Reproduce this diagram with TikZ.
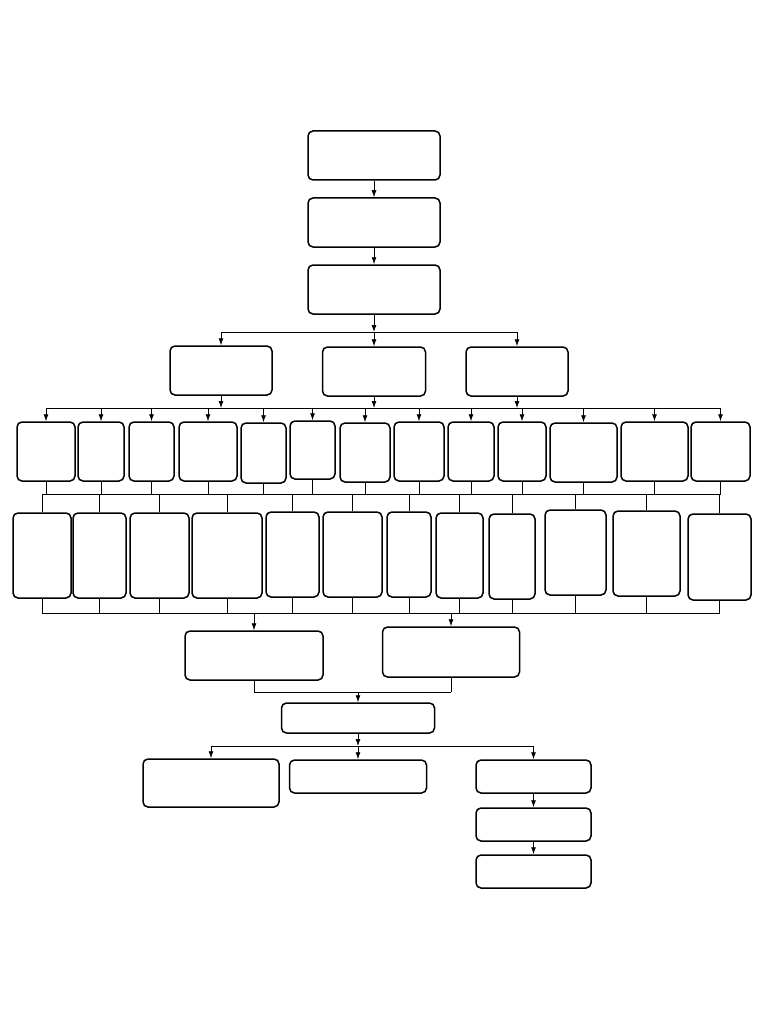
\documentclass[tikz,border=0pt]{standalone}
\usepackage{tikz}
\usetikzlibrary{positioning,arrows.meta}

\begin{document}
\begin{tikzpicture}[x=1pt,y=-1pt,
	box/.style={draw, rounded corners=5pt, line width=1.5pt, inner sep=0pt, fill=white},
	conn/.style={line width=0.8pt},
	>={Latex[length=7pt,width=5pt]}]
			\useasboundingbox (0,0) rectangle (768,1024);
			
			% top column
			\node[box, minimum width=132pt, minimum height=49pt] (t1) at (374, 155.5) {};
			\node[box, minimum width=132pt, minimum height=49pt] (t2) at (374, 222.5) {};
			\node[box, minimum width=132pt, minimum height=49pt] (t3) at (374, 289.5) {};
			
			% three branches
			\node[box, minimum width=102pt, minimum height=49pt] (a) at (221, 370.5) {};
			\node[box, minimum width=103pt, minimum height=49pt] (b) at (374, 371.5) {};
			\node[box, minimum width=102pt, minimum height=49pt] (c) at (517, 371.5) {};
			
			% upper row
			\node[box, minimum width=58pt, minimum height=59pt] (d1) at (46, 451.5) {};
			\node[box, minimum width=46pt, minimum height=59pt] (d2) at (101, 451.5) {};
			\node[box, minimum width=45pt, minimum height=59pt] (d3) at (151.5, 451.5) {};
			\node[box, minimum width=58pt, minimum height=59pt] (d4) at (208, 451.5) {};
			\node[box, minimum width=45pt, minimum height=60pt] (d5) at (263.5, 453) {};
			\node[box, minimum width=45pt, minimum height=58pt] (d6) at (312.5, 450) {};
			\node[box, minimum width=50pt, minimum height=59pt] (d7) at (365, 452.5) {};
			\node[box, minimum width=50pt, minimum height=59pt] (d8) at (419, 451.5) {};
			\node[box, minimum width=46pt, minimum height=59pt] (d9) at (471, 451.5) {};
			\node[box, minimum width=48pt, minimum height=59pt] (d10) at (522, 451.5) {};
			\node[box, minimum width=67pt, minimum height=59pt] (d11) at (583.5, 452.5) {};
			\node[box, minimum width=67pt, minimum height=59pt] (d12) at (654.5, 451.5) {};
			\node[box, minimum width=59pt, minimum height=59pt] (d13) at (720.5, 451.5) {};
			
			% lower row
			\node[box, minimum width=58pt, minimum height=85pt] (e1) at (42, 555.5) {};
			\node[box, minimum width=53pt, minimum height=85pt] (e2) at (99.5, 555.5) {};
			\node[box, minimum width=59pt, minimum height=85pt] (e3) at (159.5, 555.5) {};
			\node[box, minimum width=70pt, minimum height=85pt] (e4) at (227, 555.5) {};
			\node[box, minimum width=53pt, minimum height=85pt] (e5) at (292.5, 554.5) {};
			\node[box, minimum width=59pt, minimum height=85pt] (e6) at (352.5, 554.5) {};
			\node[box, minimum width=44pt, minimum height=85pt] (e7) at (409, 554.5) {};
			\node[box, minimum width=47pt, minimum height=85pt] (e8) at (459.5, 555.5) {};
			\node[box, minimum width=46pt, minimum height=85pt] (e9) at (512, 556.5) {};
			\node[box, minimum width=61pt, minimum height=85pt] (e10) at (575.5, 552.5) {};
			\node[box, minimum width=67pt, minimum height=85pt] (e11) at (646.5, 553.5) {};
			\node[box, minimum width=63pt, minimum height=86pt] (e12) at (719.5, 557) {};
			
			% merge
			\node[box, minimum width=138pt, minimum height=49pt] (f) at (254, 655.5) {};
			\node[box, minimum width=137pt, minimum height=50pt] (g) at (451, 652) {};
			\node[box, minimum width=153pt, minimum height=30pt] (h) at (358, 718) {};
			
			% bottom
			\node[box, minimum width=136pt, minimum height=48pt] (i) at (211, 783) {};
			\node[box, minimum width=137pt, minimum height=33pt] (j) at (358, 776.5) {};
			\node[box, minimum width=115pt, minimum height=33pt] (k1) at (533.5, 776.5) {};
			\node[box, minimum width=115pt, minimum height=33pt] (k2) at (533.5, 824.5) {};
			\node[box, minimum width=115pt, minimum height=33pt] (k3) at (533.5, 871.5) {};
			
			\coordinate (bus1) at (374, 332);
			\coordinate (bus2) at (374, 408);
			\coordinate (bus3) at (374, 494);
			\coordinate (bus4) at (374, 613);
			\coordinate (bus5) at (358, 692);
			\coordinate (bus6) at (358, 746);
			
			\draw[conn, ->] (t1) -- (t2);
			\draw[conn, ->] (t2) -- (t3);
			\draw[conn, ->] (t3) -- (bus1);
			\draw[conn] (bus1 -| a) -- (bus1 -| c);
			\draw[conn, ->] (bus1 -| a) -- (a);
			\draw[conn, ->] (bus1) -- (b);
			\draw[conn, ->] (bus1 -| c) -- (c);
			
			\draw[conn, ->] (a) -- (a |- bus2);
			\draw[conn, ->] (b) -- (bus2);
			\draw[conn, ->] (c) -- (c |- bus2);
			\draw[conn] (bus2 -| d1) -- (bus2 -| d13);
			\draw[conn, ->] (bus2 -| d1) -- (d1);
			\draw[conn, ->] (bus2 -| d2) -- (d2);
			\draw[conn, ->] (bus2 -| d3) -- (d3);
			\draw[conn, ->] (bus2 -| d4) -- (d4);
			\draw[conn, ->] (bus2 -| d5) -- (d5);
			\draw[conn, ->] (bus2 -| d6) -- (d6);
			\draw[conn, ->] (bus2 -| d7) -- (d7);
			\draw[conn, ->] (bus2 -| d8) -- (d8);
			\draw[conn, ->] (bus2 -| d9) -- (d9);
			\draw[conn, ->] (bus2 -| d10) -- (d10);
			\draw[conn, ->] (bus2 -| d11) -- (d11);
			\draw[conn, ->] (bus2 -| d12) -- (d12);
			\draw[conn, ->] (bus2 -| d13) -- (d13);
			
			\draw[conn] (d1) -- (d1 |- bus3);
			\draw[conn] (d2) -- (d2 |- bus3);
			\draw[conn] (d3) -- (d3 |- bus3);
			\draw[conn] (d4) -- (d4 |- bus3);
			\draw[conn] (d5) -- (d5 |- bus3);
			\draw[conn] (d6) -- (d6 |- bus3);
			\draw[conn] (d7) -- (d7 |- bus3);
			\draw[conn] (d8) -- (d8 |- bus3);
			\draw[conn] (d9) -- (d9 |- bus3);
			\draw[conn] (d10) -- (d10 |- bus3);
			\draw[conn] (d11) -- (d11 |- bus3);
			\draw[conn] (d12) -- (d12 |- bus3);
			\draw[conn] (d13) -- (d13 |- bus3);
			\draw[conn] (bus3 -| e1) -- (bus3 -| d13);
			\draw[conn] (bus3 -| e1) -- (e1);
			\draw[conn] (bus3 -| e2) -- (e2);
			\draw[conn] (bus3 -| e3) -- (e3);
			\draw[conn] (bus3 -| e4) -- (e4);
			\draw[conn] (bus3 -| e5) -- (e5);
			\draw[conn] (bus3 -| e6) -- (e6);
			\draw[conn] (bus3 -| e7) -- (e7);
			\draw[conn] (bus3 -| e8) -- (e8);
			\draw[conn] (bus3 -| e9) -- (e9);
			\draw[conn] (bus3 -| e10) -- (e10);
			\draw[conn] (bus3 -| e11) -- (e11);
			\draw[conn] (bus3 -| e12) -- (e12);
			
			\draw[conn] (e1) -- (e1 |- bus4);
			\draw[conn] (e2) -- (e2 |- bus4);
			\draw[conn] (e3) -- (e3 |- bus4);
			\draw[conn] (e4) -- (e4 |- bus4);
			\draw[conn] (e5) -- (e5 |- bus4);
			\draw[conn] (e6) -- (e6 |- bus4);
			\draw[conn] (e7) -- (e7 |- bus4);
			\draw[conn] (e8) -- (e8 |- bus4);
			\draw[conn] (e9) -- (e9 |- bus4);
			\draw[conn] (e10) -- (e10 |- bus4);
			\draw[conn] (e11) -- (e11 |- bus4);
			\draw[conn] (e12) -- (e12 |- bus4);
			\draw[conn] (bus4 -| e1) -- (bus4 -| e12);
			\draw[conn, ->] (bus4 -| f) -- (f);
			\draw[conn, ->] (bus4 -| g) -- (g);
			
			\draw[conn] (f) -- (f |- bus5);
			\draw[conn] (g) -- (g |- bus5);
			\draw[conn] (bus5 -| f) -- (bus5 -| g);
			\draw[conn, ->] (bus5) -- (h);
			
			\draw[conn, ->] (h) -- (bus6);
			\draw[conn] (bus6 -| i) -- (bus6 -| k1);
			\draw[conn, ->] (bus6 -| i) -- (i);
			\draw[conn, ->] (bus6) -- (j);
			\draw[conn, ->] (bus6 -| k1) -- (k1);
			\draw[conn, ->] (k1) -- (k2);
			\draw[conn, ->] (k2) -- (k3);
			
			\end{tikzpicture}
\end{document}
